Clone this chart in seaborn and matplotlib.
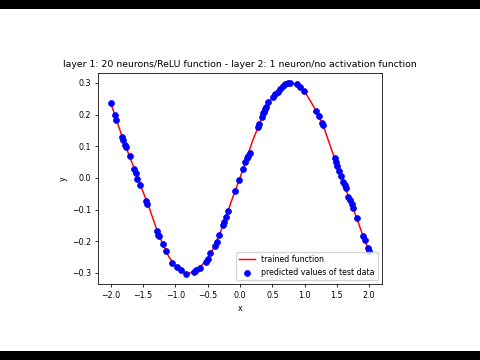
import matplotlib
matplotlib.use("Agg")
import matplotlib.pyplot as plt
import seaborn as sns
import pandas as pd
from matplotlib.patches import Rectangle

# trained function
line_x = [-2.0, -1.9, -1.8, -1.7, -1.6, -1.5, -1.4, -1.3, -1.2, -1.1, -1.0,
          -0.9, -0.8, -0.7, -0.6, -0.5, -0.4, -0.3, -0.2, -0.1, 0.0,
          0.1, 0.2, 0.3, 0.4, 0.5, 0.6, 0.7, 0.8, 0.9, 1.0,
          1.1, 1.2, 1.3, 1.4, 1.5, 1.6, 1.7, 1.8, 1.9, 2.0]
line_y = [0.236, 0.175, 0.115, 0.062, 0.010, -0.045, -0.098, -0.157, -0.208, -0.250, -0.278,
          -0.295, -0.302, -0.294, -0.278, -0.255, -0.218, -0.170, -0.112, -0.055, 0.000,
          0.060, 0.120, 0.170, 0.222, 0.254, 0.276, 0.297, 0.301, 0.293, 0.273,
          0.240, 0.204, 0.160, 0.100, 0.042, -0.012, -0.071, -0.122, -0.180, -0.230]

# predicted values of test data
test_x = [-2.00, -1.94, -1.92, -1.83, -1.81, -1.78, -1.76, -1.71, -1.64, -1.61, -1.59, -1.55,
          -1.46, -1.44, -1.28, -1.27, -1.255, -1.20, -1.15, -1.05, -0.98, -0.92, -0.84,
          -0.72, -0.68, -0.625, -0.53, -0.50, -0.46, -0.39, -0.36, -0.32, -0.27, -0.245,
          -0.215, -0.19, -0.08, -0.01, 0.047, 0.078, 0.11, 0.13, 0.15, 0.286, 0.297, 0.34,
          0.364, 0.375, 0.386, 0.41, 0.44, 0.505, 0.547, 0.583, 0.62, 0.66, 0.70, 0.74, 0.78,
          0.88, 0.93, 0.99, 1.18, 1.22, 1.27, 1.285, 1.47, 1.48, 1.51, 1.54, 1.57, 1.60, 1.625,
          1.64, 1.68, 1.70, 1.73, 1.755, 1.81, 1.91, 1.94, 1.99, 2.00]
test_y = [0.236, 0.198, 0.183, 0.130, 0.120, 0.104, 0.097, 0.068, 0.027, 0.017, -0.004, -0.022,
          -0.073, -0.082, -0.169, -0.180, -0.185, -0.208, -0.230, -0.270, -0.282, -0.290, -0.303,
          -0.296, -0.292, -0.286, -0.266, -0.256, -0.238, -0.214, -0.201, -0.179, -0.150, -0.138,
          -0.124, -0.103, -0.040, -0.008, 0.027, 0.051, 0.062, 0.069, 0.080, 0.160, 0.169, 0.191,
          0.204, 0.209, 0.217, 0.225, 0.241, 0.255, 0.264, 0.272, 0.280, 0.290, 0.297, 0.301, 0.301,
          0.296, 0.288, 0.275, 0.212, 0.196, 0.173, 0.166, 0.062, 0.051, 0.038, 0.023, 0.005, -0.012,
          -0.022, -0.032, -0.059, -0.071, -0.082, -0.096, -0.127, -0.185, -0.195, -0.222, -0.230]

xticks = [-2.0, -1.5, -1.0, -0.5, 0.0, 0.5, 1.0, 1.5, 2.0]
yticks = [-0.3, -0.2, -0.1, 0.0, 0.1, 0.2, 0.3]

title = "layer 1: 20 neurons/ReLU function - layer 2: 1 neuron/no activation function"

k = 0.7125   # line/marker scale
t = 0.565    # text scale
plt.rcParams.update({
    "font.family": ["DejaVu Sans"],
    "font.size": 10 * t,
    "axes.linewidth": 0.8 * k,
    "xtick.major.width": 0.8 * k,
    "ytick.major.width": 0.8 * k,
    "xtick.major.size": 3.5 * k,
    "ytick.major.size": 3.5 * k,
    "xtick.major.pad": 3.5 * k,
    "ytick.major.pad": 3.5 * k,
    "axes.labelpad": 4.0 * k,
    "axes.titlepad": 6.0 * k,
    "legend.fontsize": 10 * t,
})

fig = plt.figure(figsize=(4.8, 3.6), dpi=100)
fig.patch.set_facecolor("white")
ax = fig.add_axes([98 / 480, (360 - 284) / 360, (382 - 98) / 480, (284 - 73) / 360])

line_df = pd.DataFrame({"x": line_x, "y": line_y})
test_df = pd.DataFrame({"x": test_x, "y": test_y})

sns.lineplot(data=line_df, x="x", y="y", ax=ax, color="red", linewidth=1.5 * k,
             label="trained function", sort=True)
sns.scatterplot(data=test_df, x="x", y="y", ax=ax, color="blue", edgecolor="blue",
                s=(6 * k) ** 2, linewidth=0.5, label="predicted values of test data", zorder=3)

ax.set_xticks(xticks)
ax.set_yticks(yticks)
ax.set_xlim(-2.2, 2.2)
ax.set_ylim(-0.3352, 0.3316)
ax.set_xlabel("x")
ax.set_ylabel("y")
ax.set_title(title, fontsize=12 * t)
ax.legend(loc="lower right", fontsize=10 * t)

# letterbox bars
fig.add_artist(Rectangle((0, 1 - 9 / 360), 1, 9 / 360, transform=fig.transFigure,
                         facecolor="black", edgecolor="none"))
fig.add_artist(Rectangle((0, 0), 1, 9 / 360, transform=fig.transFigure,
                         facecolor="black", edgecolor="none"))

fig.savefig("out.png", dpi=100)
